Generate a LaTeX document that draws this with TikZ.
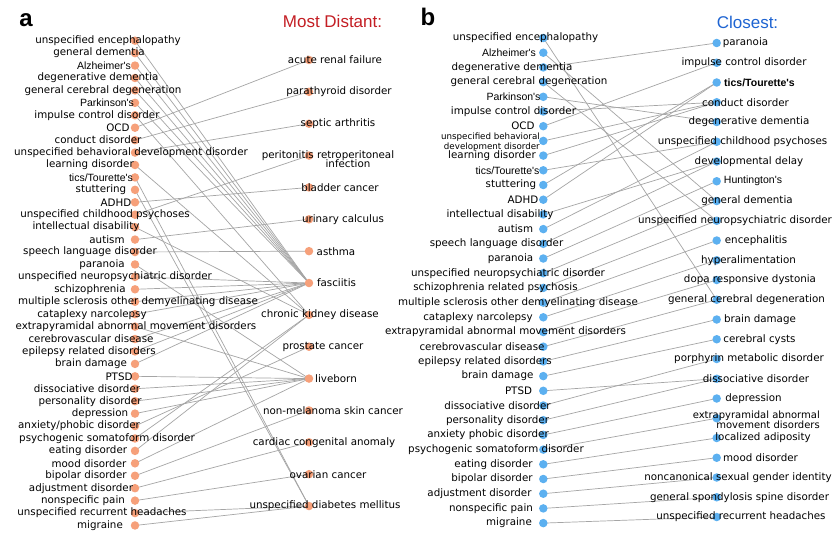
\documentclass[tikz,border=0pt]{standalone}
\usepackage{fontspec}
\setmainfont{DejaVu Sans}
\newfontfamily\arialf{Liberation Sans}
\definecolor{dotorange}{RGB}{246,160,122}
\definecolor{dotblue}{RGB}{92,176,240}
\definecolor{edgegray}{RGB}{165,165,165}
\definecolor{titlered}{RGB}{196,30,36}
\definecolor{titleblue}{RGB}{30,100,210}
\pgfdeclarelayer{bg}
\pgfsetlayers{bg,main}
\newcommand\LA[3]{\pgfmathsetmacro\yy{40.7+(#1-1)*12.43}%
  \node[odot] (la#1) at (135,\yy) {};\node[lab] (la#1t) at (#2,\yy) {#3};}
\newcommand\RA[3]{\pgfmathsetmacro\yy{60+(#1-1)*31.86}%
  \node[odot] (ra#1) at (309,\yy) {};\node[lab] (ra#1t) at (#2,\yy) {#3};}
\newcommand\LB[3]{\pgfmathsetmacro\yy{38+(#1-1)*14.7}%
  \node[bdot] (lb#1) at (543.3,\yy) {};\node[lab] (lb#1t) at (#2,\yy) {#3};}
\newcommand\RB[3]{\pgfmathsetmacro\yy{43+(#1-1)*19.75}%
  \node[bdot] (rb#1) at (716.7,\yy) {};\node[lab] (rb#1t) at (#2,\yy) {#3};}
\newcommand\EA[2]{\draw[edge] (la#1.center) -- (ra#2.center);}
\newcommand\EB[2]{\draw[edge] (lb#1.center) -- (rb#2.center);}
\begin{document}
\begin{tikzpicture}[x=1pt,y=-1pt,
  lab/.style={font=\fontsize{10.3}{12}\selectfont, inner sep=0pt, text=black},
  odot/.style={circle, fill=dotorange, inner sep=0pt, minimum size=8.5pt},
  bdot/.style={circle, fill=dotblue, inner sep=0pt, minimum size=8.5pt},
  edge/.style={draw=edgegray, line width=0.7pt}]
\useasboundingbox (0,0) rectangle (839,535);
\begin{pgfonlayer}{bg}
\fill[white] (0,0) rectangle (839,535);
\end{pgfonlayer}
% panel letters and titles
\node[font=\arialf\bfseries\fontsize{24}{26}\selectfont, inner sep=0pt] (pa) at (26,20) {a};
\node[font=\arialf\bfseries\fontsize{24}{26}\selectfont, inner sep=0pt] (pb) at (428,17) {b};
\node[font=\arialf\fontsize{17}{19}\selectfont, text=titlered, inner sep=0pt] (ta) at (332.5,21) {Most Distant:};
\node[font=\arialf\fontsize{17}{19}\selectfont, text=titleblue, inner sep=0pt] (tb) at (747.5,22) {Closest:};
% ---------- panel a, left ----------
\LA{1}{108}{unspecified encephalopathy}
\LA{2}{99}{general dementia}
\LA{3}{104}{\arialf\fontsize{10.5}{12}\selectfont Alzheimer's}
\LA{4}{98}{degenerative dementia}
\LA{5}{103}{general cerebral degeneration}
\LA{6}{107}{\arialf\fontsize{10.5}{12}\selectfont Parkinson's}
\LA{7}{97}{impulse control disorder}
\LA{8}{118}{OCD}
\LA{9}{98}{conduct disorder}
\LA{10}{131}{unspecified behavioral development disorder}
\LA{11}{90}{learning disorder}
\LA{12}{101}{\arialf\fontsize{10.5}{12}\selectfont tics/Tourette's}
\LA{13}{101}{stuttering}
\LA{14}{116}{ADHD}
\LA{15}{105}{unspecified childhood psychoses}
\LA{16}{86}{intellectual disability}
\LA{17}{107}{autism}
\LA{18}{90}{speech language disorder}
\LA{19}{102}{paranoia}
\LA{20}{115}{unspecified neuropsychiatric disorder}
\LA{21}{90}{schizophrenia}
\LA{22}{138}{multiple sclerosis other demyelinating disease}
\LA{23}{92}{cataplexy narcolepsy}
\LA{24}{136}{extrapyramidal abnormal movement disorders}
\LA{25}{91}{cerebrovascular disease}
\LA{26}{89}{epilepsy related disorders}
\LA{27}{91}{brain damage}
\LA{28}{119}{PTSD}
\LA{29}{87}{dissociative disorder}
\LA{30}{90}{personality disorder}
\LA{31}{100}{depression}
\LA{32}{79}{anxiety/phobic disorder}
\LA{33}{107}{psychogenic somatoform disorder}
\LA{34}{88}{eating disorder}
\LA{35}{89}{mood disorder}
\LA{36}{86}{bipolar disorder}
\LA{37}{81}{adjustment disorder}
\LA{38}{83}{nonspecific pain}
\LA{39}{102}{unspecified recurrent headaches}
\LA{40}{100}{migraine}
% ---------- panel a, right ----------
\RA{1}{335}{acute renal failure}
\RA{2}{339}{parathyroid disorder}
\RA{3}{338}{septic arthritis}
\RA{4}{328}{peritonitis retroperitoneal}
\node[lab] (ra4u) at (348,163.5) {infection};
\RA{5}{340}{bladder cancer}
\RA{6}{343}{urinary calculus}
\RA{7}{336}{asthma}
\RA{8}{336.5}{fasciitis}
\RA{9}{320}{chronic kidney disease}
\RA{10}{323}{prostate cancer}
\RA{11}{336}{liveborn}
\RA{12}{333}{non-melanoma skin cancer}
\RA{13}{324}{cardiac congenital anomaly}
\RA{14}{328}{ovarian cancer}
\RA{15}{325}{unspecified diabetes mellitus}
% ---------- panel b, left ----------
\LB{1}{525.5}{unspecified encephalopathy}
\LB{2}{509}{\arialf\fontsize{10.5}{12}\selectfont Alzheimer's}
\LB{3}{512}{degenerative dementia}
\LB{4}{529}{general cerebral degeneration}
\LB{5}{513.5}{\arialf\fontsize{10.5}{12}\selectfont Parkinson's}
\LB{6}{513.5}{impulse control disorder}
\LB{7}{523}{OCD}
\pgfmathsetmacro\yy{38+7*14.7}
\node[bdot] (lb8) at (543.3,\yy) {};
\node[font=\fontsize{8.7}{8.2}\selectfont, inner sep=0pt, align=right, anchor=east] (lb8t) at (540,142) {unspecified behavioral\\development disorder};
\LB{9}{492}{learning disorder}
\LB{10}{507.5}{\arialf\fontsize{10.5}{12}\selectfont tics/Tourette's}
\LB{11}{511}{stuttering}
\LB{12}{523}{ADHD}
\LB{13}{500}{intellectual disability}
\LB{14}{515.5}{autism}
\LB{15}{496.5}{speech language disorder}
\LB{16}{510.5}{paranoia}
\LB{17}{508}{unspecified neuropsychiatric disorder}
\LB{18}{495.5}{schizophrenia related psychosis}
\LB{19}{518}{multiple sclerosis other demyelinating disease}
\LB{20}{478}{cataplexy narcolepsy}
\LB{21}{505.5}{extrapyramidal abnormal movement disorders}
\LB{22}{482}{cerebrovascular disease}
\LB{23}{485}{epilepsy related disorders}
\LB{24}{497.5}{brain damage}
\LB{25}{518.5}{PTSD}
\LB{26}{497.5}{dissociative disorder}
\LB{27}{497.5}{personality disorder}
\LB{28}{488}{anxiety phobic disorder}
\LB{29}{496}{psychogenic somatoform disorder}
\LB{30}{493.5}{eating disorder}
\LB{31}{492}{bipolar disorder}
\LB{32}{479.5}{adjustment disorder}
\LB{33}{491}{nonspecific pain}
\LB{34}{509}{migraine}
% ---------- panel b, right ----------
\RB{1}{745.5}{paranoia}
\RB{2}{744}{impulse control disorder}
\RB{3}{759.5}{\arialf\bfseries\fontsize{10.5}{12}\selectfont tics/Tourette's}
\RB{4}{745.5}{conduct disorder}
\RB{5}{749}{degenerative dementia}
\RB{6}{742.5}{unspecified childhood psychoses}
\RB{7}{749}{developmental delay}
\RB{8}{753}{\arialf\fontsize{10.5}{12}\selectfont Huntington's}
\RB{9}{747}{general dementia}
\RB{10}{735}{unspecified neuropsychiatric disorder}
\RB{11}{756}{encephalitis}
\RB{12}{748.5}{hyperalimentation}
\RB{13}{750}{dopa responsive dystonia}
\RB{14}{746.5}{general cerebral degeneration}
\RB{15}{760}{brain damage}
\RB{16}{759.5}{cerebral cysts}
\RB{17}{749}{porphyrin metabolic disorder}
\RB{18}{756}{dissociative disorder}
\RB{19}{753.5}{depression}
\pgfmathsetmacro\yy{43+19*19.75}
\node[bdot] (rb20) at (716.7,\yy) {};
\node[font=\fontsize{10}{10}\selectfont, inner sep=0pt, align=right, anchor=east] (rb20t) at (820,419.5) {extrapyramidal abnormal\\movement disorders};
\RB{21}{763}{localized adiposity}
\RB{22}{760.5}{mood disorder}
\RB{23}{738}{noncanonical sexual gender identity}
\RB{24}{739.5}{general spondylosis spine disorder}
\RB{25}{741}{unspecified recurrent headaches}
% ---------- edges ----------
\begin{pgfonlayer}{bg}
\EA{1}{8}\EA{2}{8}\EA{3}{8}\EA{4}{8}\EA{5}{8}\EA{6}{8}\EA{7}{9}\EA{8}{1}
\EA{9}{2}\EA{10}{3}\EA{11}{9}\EA{12}{15}\EA{13}{15}\EA{14}{5}\EA{15}{4}
\EA{16}{9}\EA{17}{6}\EA{18}{7}\EA{19}{11}\EA{20}{8}\EA{21}{8}\EA{22}{8}
\EA{23}{8}\EA{24}{11}\EA{25}{8}\EA{26}{8}\EA{27}{8}\EA{28}{11}\EA{29}{11}
\EA{30}{11}\EA{31}{11}\EA{32}{10}\EA{33}{9}\EA{34}{9}\EA{35}{11}\EA{36}{12}
\EA{37}{13}\EA{38}{14}\EA{39}{15}\EA{40}{15}
\EB{1}{14}\EB{2}{9}\EB{3}{1}\EB{4}{10}\EB{5}{5}\EB{6}{4}\EB{7}{2}\EB{8}{4}
\EB{9}{4}\EB{10}{6}\EB{11}{3}\EB{12}{3}\EB{13}{7}\EB{14}{6}\EB{15}{7}
\EB{16}{8}\EB{17}{9}\EB{18}{10}\EB{19}{11}\EB{20}{12}\EB{21}{13}\EB{22}{14}
\EB{23}{15}\EB{24}{16}\EB{25}{18}\EB{26}{17}\EB{27}{18}\EB{28}{19}\EB{29}{20}
\EB{30}{21}\EB{31}{22}\EB{32}{23}\EB{33}{24}\EB{34}{25}
\end{pgfonlayer}
\end{tikzpicture}
\end{document}
